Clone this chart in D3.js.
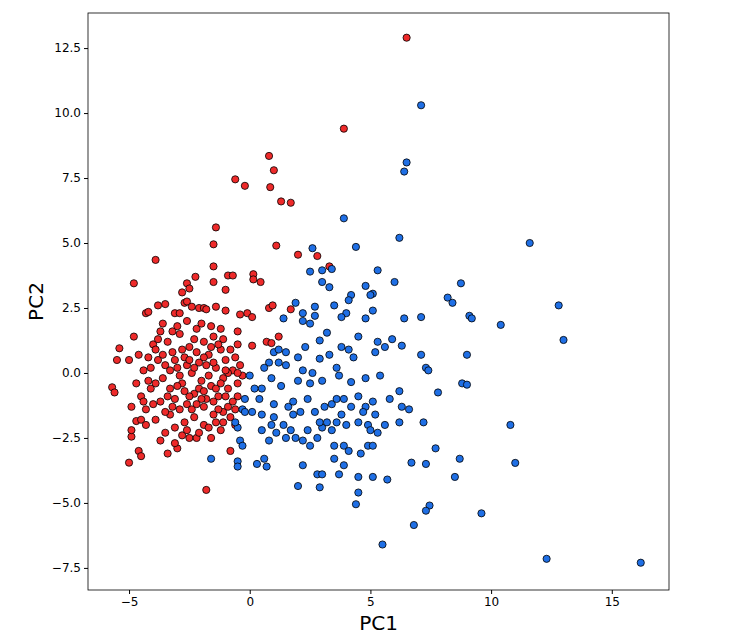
<!DOCTYPE html>
<html><head><meta charset="utf-8">
<script src="https://cdn.jsdelivr.net/npm/d3@7"></script>
<style>body{margin:0;background:#fff}</style></head>
<body><svg id="c" width="730" height="638"></svg>
<script>
const xTicks=[-5,0,5,10,15];
const yTicks=[-7.5,-5.0,-2.5,0.0,2.5,5.0,7.5,10.0,12.5];
const redPts=[[6.5,12.9],[3.9,9.4],[0.8,8.35],[-0.6,7.45],[-0.2,7.2],[0.85,7.15],[1.0,7.8],[1.3,6.6],[1.7,6.55],[-1.4,5.6],[-1.5,4.95],[1.1,4.9],[2.0,4.55],[2.8,4.5],[3.3,4.1],[-3.9,4.35],[-4.8,3.45],[-1.5,4.1],[0.15,3.8],[0.15,3.6],[-0.9,3.75],[-0.7,3.75],[0.45,3.5],[-2.6,3.45],[-2.25,3.7],[-2.8,3.1],[-1.5,3.5],[-2.5,3.25],[-1.0,3.2],[0.8,2.5],[0.95,2.6],[1.7,2.45],[-4.3,2.3],[-4.2,2.35],[-3.8,2.6],[-3.5,2.65],[-1.0,2.4],[-0.4,2.25],[-0.1,2.3],[0.1,2.15],[-2.1,2.5],[-1.9,2.5],[-1.8,2.45],[-1.4,2.55],[-3.1,2.3],[-2.9,2.3],[-2.7,2.7],[-2.6,2.75],[-2.4,2.55],[0.7,1.2],[0.9,1.15],[1.2,1.4],[-0.5,1.6],[-0.5,1.1],[-0.6,0.6],[0.1,1.05],[-5.4,0.95],[-5.5,0.5],[-5.0,0.5],[-5.7,-0.55],[-5.6,-0.75],[-5.0,-3.45],[-4.9,-2.45],[-4.9,-2.2],[-4.6,-3.0],[-4.5,-3.2],[-4.7,-1.85],[-4.5,-1.8],[-1.8,-4.5],[-0.8,-3.0],[-3.4,-3.1],[-3.0,-2.9],[-2.5,-2.5],[-2.2,-2.5],[-1.9,-2.0],[-1.4,-1.9],[-1.1,-1.5],[-0.9,-1.3],[-0.5,-0.4],[-0.5,-0.9],[-0.3,-0.1],[-0.7,0.1],[-0.9,0.0],
[-4.8,1.4],[-4.6,0.7],[-4.4,0.1],[-4.2,-0.3],[-4.0,1.1],[-3.9,0.9],[-3.8,0.5],[-3.7,1.6],[-3.6,-0.2],[-3.5,0.3],[-3.4,1.2],[-3.3,-0.6],[-3.2,0.8],[-3.1,-1.0],[-3.0,0.2],[-2.9,1.5],[-2.8,-0.4],[-2.7,0.6],[-2.6,-1.2],[-2.5,1.0],[-2.4,0.0],[-2.3,-0.8],[-2.2,1.7],[-2.1,0.4],[-2.0,-0.3],[-1.9,1.2],[-1.8,-1.0],[-1.7,0.7],[-1.6,-0.5],[-1.5,1.4],[-1.4,0.2],[-1.3,-1.4],[-1.2,0.9],[-1.1,-0.2],[-1.0,0.5],[-4.5,-0.9],[-4.3,-1.4],[-4.1,-0.6],[-3.9,-1.8],[-3.7,-1.1],[-3.5,-2.3],[-3.3,-1.6],[-3.1,-2.1],[-2.9,-1.4],[-2.7,-1.9],[-2.5,-0.9],[-2.3,-1.7],[-2.1,-2.3],[-1.9,-1.3],[-1.7,-2.1],[-1.5,-1.6],[-1.3,-0.9],[-1.1,-1.9],[-0.9,-0.6],[-0.7,-1.1],[-4.7,-0.4],[-4.4,-1.1],[-4.2,0.6],[-4.0,-1.2],[-3.8,1.3],[-3.6,0.7],[-3.4,-0.9],[-3.2,1.6],[-3.0,-0.5],[-2.8,0.9],[-2.6,0.3],[-2.4,-1.4],[-2.2,0.8],[-2.0,-1.0],[-1.8,0.3],[-1.6,1.0],[-1.4,-0.6],[-1.2,1.7],[-1.0,-0.9],[-0.8,0.9],[-3.3,0.1],[-2.9,-0.1],[-2.5,0.5],[-2.1,-0.6],[-1.7,-0.1],[-3.6,1.9],[-3.2,-1.3],[-2.8,-2.4],[-2.3,1.3],[-1.9,0.6],[-1.5,-1.1],[-1.1,1.3],[-0.8,-1.7],[-0.6,-2.0],[-0.4,0.3],[-4.1,0.2],[-3.9,-0.4],[-3.5,-1.5],[-3.1,0.5],[-2.7,-0.7],[-2.3,0.2],[-1.9,-0.7],[-1.5,0.4],[-1.2,-0.4],[-1.0,0.1],[-2.0,1.9],[-2.6,2.0],[-3.0,1.8],[-1.6,1.8],[-1.3,1.1],[-4.9,-1.3],[-4.3,-2.0],[-3.7,-2.6],[-3.1,-2.7],[-2.6,-2.2],[-2.2,-1.2],[-1.6,-2.5],[-1.2,-2.2],[-0.6,-1.4],[-0.5,0.0]];
const bluePts=[[16.2,-7.3],[12.3,-7.15],[13.0,1.27],[12.8,2.6],[11.6,5.0],[11.0,-3.46],[10.8,-2.0],[10.4,1.85],[9.6,-5.4],[9.1,2.2],[9.2,2.1],[8.2,2.9],[8.75,3.45],[9.0,0.7],[8.8,-0.4],[9.0,-0.45],[8.7,-3.3],[8.5,-4.0],[7.1,10.3],[6.5,8.1],[6.4,7.75],[6.2,5.2],[3.9,5.95],[4.4,4.85],[5.3,3.95],[6.0,3.5],[5.1,3.05],[4.8,3.35],[2.6,4.8],[3.4,4.0],[3.0,3.95],[2.5,3.9],[1.9,2.7],[2.2,2.3],[2.7,2.55],[3.5,2.6],[2.5,1.9],[1.4,2.1],[4.2,3.0],[4.0,2.3],[4.8,2.1],[5.1,2.4],[6.4,2.1],[7.1,2.15],[5.9,1.3],[5.6,1.0],[4.5,1.4],[3.2,1.55],[2.9,1.25],[2.3,1.0],[1.5,0.8],[1.0,0.8],[0.8,0.4],[0.6,0.2],[1.2,0.9],[2.0,0.6],[2.9,0.55],[3.3,0.7],[3.8,1.0],[4.1,0.9],[5.2,0.8],[6.3,1.05],[7.1,0.7],[7.3,0.2],[7.4,0.1],[6.2,-0.7],[5.4,-0.1],[4.8,-0.2],[4.2,-0.35],[3.7,-0.1],[3.0,-0.3],[2.5,-0.4],[2.0,-0.3],[1.5,0.3],[2.2,0.1],[1.0,-1.2],[0.5,-0.6],[0.0,-0.1],[-0.2,-1.0],[-0.3,-1.4],[0.1,-1.5],[0.5,-1.6],[1.0,-1.7],[1.6,-1.3],[1.8,-1.1],[2.1,-1.5],[2.7,-1.5],[3.1,-1.3],[3.4,-1.2],[3.6,-1.0],[3.9,-1.0],[4.5,-0.9],[4.8,-1.3],[5.1,-1.1],[5.2,-1.6],[5.8,-1.0],[6.3,-1.3],[6.6,-1.4],[7.2,-1.9],[7.8,-0.75],[6.2,-1.9],[5.3,-2.3],[4.9,-2.0],[4.5,-1.9],[4.0,-2.0],[3.6,-1.9],[3.4,-2.2],[3.0,-2.1],[2.9,-1.9],[2.2,-2.6],[1.9,-2.5],[1.7,-2.2],[1.4,-2.0],[1.1,-2.3],[0.8,-2.6],[0.5,-2.2],[0.6,-3.3],[0.7,-3.6],[0.3,-3.5],[-0.5,-3.4],[-0.5,-3.6],[-0.4,-2.6],[-0.5,-2.1],[-1.6,-3.3],[-0.6,-1.9],[1.5,-2.5],[2.5,-2.8],[2.8,-2.5],[3.5,-2.8],[3.5,-3.3],[3.9,-2.8],[4.1,-3.0],[4.6,-3.1],[4.9,-2.8],[5.1,-2.8],[5.0,-2.2],[6.7,-3.45],[7.7,-2.9],[7.3,-3.5],[2.2,-3.55],[2.0,-4.35],[2.9,-4.4],[2.8,-3.9],[3.0,-3.9],[3.7,-3.9],[3.9,-3.55],[4.5,-4.0],[5.1,-4.0],[5.7,-4.1],[4.5,-4.6],[4.4,-5.05],[7.45,-5.1],[7.3,-5.3],[6.8,-5.85],[5.5,-6.6],[8.4,2.7],[3.8,2.15],[3.0,3.5],[2.2,2.0],[3.3,3.3],[2.7,2.2],[4.1,2.8],[5.0,3.0],[5.3,1.2],[4.3,0.6],[3.6,0.2],[2.6,0.0],[1.2,0.4],[0.4,-1.0],[0.9,-0.2],[1.8,-1.6],[2.4,-1.0],[3.8,-1.6],[4.2,-1.3],[4.7,-1.5],[5.6,-2.0],[3.2,-1.9],[2.4,-2.2],[0.9,-2.0],[-0.3,-2.8],[-0.2,-1.5],[0.2,-0.6],[1.3,-0.5]];

const W=730,H=638,m={l:88,r:669,t:13,b:590};
const x=d3.scaleLinear().domain([-6.7,17.37]).range([m.l,m.r]);
const y=d3.scaleLinear().domain([-8.35,13.85]).range([m.b,m.t]);
const svg=d3.select("#c");
const font="DejaVu Sans, sans-serif";
const gx=svg.append("g").attr("transform",`translate(0,${m.b})`).call(d3.axisBottom(x).tickValues(xTicks).tickFormat(d3.format("d")).tickSizeOuter(0).tickSize(4));
const gy=svg.append("g").attr("transform",`translate(${m.l},0)`).call(d3.axisLeft(y).tickValues(yTicks).tickFormat(d3.format(".1f")).tickSizeOuter(0).tickSize(4));
[gx,gy].forEach(g=>{g.selectAll("text").attr("font-family",font).attr("font-size",12).attr("fill","#000");g.select(".domain").remove();g.selectAll("line").attr("stroke","#000");});
gy.selectAll(".tick text").text(d=>d<0?"\u2212"+d3.format(".1f")(-d):d3.format(".1f")(d));
gx.selectAll(".tick text").text(d=>d<0?"\u2212"+(-d):d);
svg.append("rect").attr("x",m.l).attr("y",m.t).attr("width",m.r-m.l).attr("height",m.b-m.t).attr("fill","none").attr("stroke","#000").attr("stroke-width",0.8);
svg.append("g").selectAll("circle").data(redPts).join("circle").attr("cx",d=>x(d[0])).attr("cy",d=>y(d[1])).attr("r",3.6).attr("fill","#ee2a2a").attr("stroke","#000").attr("stroke-width",0.8);
svg.append("g").selectAll("circle").data(bluePts).join("circle").attr("cx",d=>x(d[0])).attr("cy",d=>y(d[1])).attr("r",3.6).attr("fill","#1f6fe5").attr("stroke","#000").attr("stroke-width",0.8);
svg.append("text").attr("x",(m.l+m.r)/2).attr("y",630).attr("text-anchor","middle").attr("font-family",font).attr("font-size",20).text("PC1");
svg.append("text").attr("transform",`translate(43,${(m.t+m.b)/2}) rotate(-90)`).attr("text-anchor","middle").attr("font-family",font).attr("font-size",20).text("PC2");
</script></body></html>
